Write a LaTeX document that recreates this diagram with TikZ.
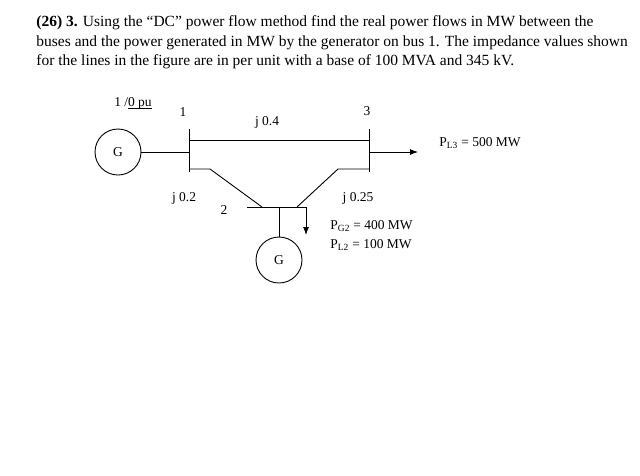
\documentclass[tikz,border=0pt]{standalone}
\usepackage{fontspec}
\setmainfont{Liberation Serif}
\usetikzlibrary{arrows.meta}
\begin{document}
\begin{tikzpicture}[x=1pt,y=-1pt,line width=0.9pt,
  hdr/.style={anchor=west,inner sep=0,font=\fontsize{15.5}{17}\selectfont},
  lbl/.style={inner sep=0,font=\fontsize{13.5}{15}\selectfont},
  gen/.style={draw,circle,minimum size=46pt,inner sep=0,font=\fontsize{13.5}{15}\selectfont},
  arr/.style={-{Latex[length=8pt,width=6pt]}}]
\useasboundingbox (0,0) rectangle (640,475);
\node[hdr] (h1) at (36,23) {\textbf{(26) 3.} Using the “DC” power flow method find the real power flows in MW between the};
\node[hdr] (h2) at (36,43) {buses and the power generated in MW by the generator on bus 1. The impedance values shown};
\node[hdr] (h3) at (36,62) {for the lines in the figure are in per unit with a base of 100 MVA and 345 kV.};
\node[gen] (g1) at (118,152) {G};
\node[gen] (g2) at (279,260) {G};
\coordinate (b1t) at (189,129); \coordinate (b1b) at (189,172);
\coordinate (b3t) at (369,129); \coordinate (b3b) at (369,172);
\coordinate (b2l) at (247,207); \coordinate (b2r) at (307,207);
\draw (b1t) -- (b1b); \draw (b3t) -- (b3b); \draw (b2l) -- (b2r);
\draw (189,140) -- (369,140);
\draw (g1.east) -- (189,152);
\draw[arr] (369,152) -- (418,152);
\draw (189,169) -- (210,169) -- (262,207);
\draw (297,207) -- (338,169) -- (369,169);
\draw (279,207) -- (g2.north);
\draw[arr] (306,207) -- (306,235);
\node[lbl] (t1) at (133,103) {1 /{\setbox0\hbox{0 pu}\rlap{\rule[-2.5pt]{\wd0}{0.8pt}}\box0}};
\node[lbl] (n1) at (183,112) {1};
\node[lbl] (n3) at (367,111) {3};
\node[lbl] (x13) at (267,122) {j 0.4};
\node[lbl,anchor=west] (pl3) at (439,143) {P\textsubscript{L3} = 500 MW};
\node[lbl] (x12) at (184,198) {j 0.2};
\node[lbl] (n2) at (224,210) {2};
\node[lbl] (x23) at (358,198) {j 0.25};
\node[lbl,anchor=west] (pg2) at (330,226) {P\textsubscript{G2} = 400 MW};
\node[lbl,anchor=west] (pl2) at (330,245) {P\textsubscript{L2} = 100 MW};
\end{tikzpicture}
\end{document}
